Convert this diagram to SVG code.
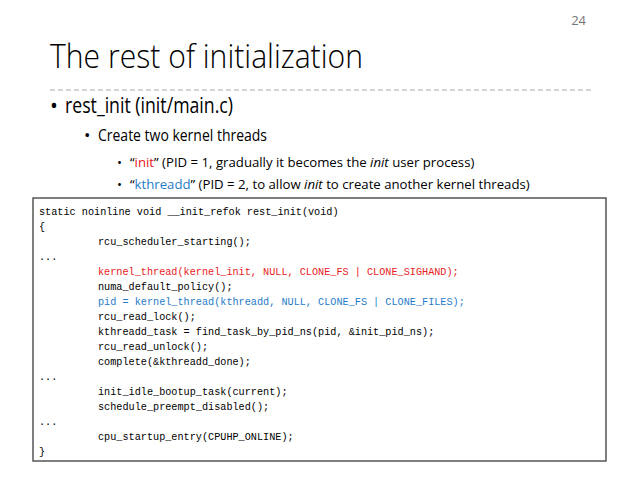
<svg xmlns="http://www.w3.org/2000/svg" width="638" height="478" viewBox="0 0 638 478">
<style>
.s{font-family:"Open Sans","Liberation Sans",sans-serif;fill:#000}
.c{font-family:"Liberation Mono","DejaVu Sans Mono",monospace;font-size:10.2px;fill:#000;white-space:pre}
.r{fill:#e8191b}.b{fill:#1f7bc8}
</style>
<rect width="638" height="478" fill="#fff"/>
<text class="s" x="586" y="25" font-size="13" style="fill:#777" text-anchor="end">24</text>
<text class="s" x="50" y="68" font-size="33" font-weight="300" textLength="313" lengthAdjust="spacingAndGlyphs">The rest of initialization</text>
<line x1="50" y1="90" x2="592" y2="90" stroke="#aaa" stroke-dasharray="5,3"/>
<g id="bullets">
<text class="s" x="50" y="113" font-size="21">•</text>
<text class="s" x="65" y="113" font-size="21" textLength="168" lengthAdjust="spacingAndGlyphs">rest_init (init/main.c)</text>
<text class="s" x="84" y="141" font-size="17">•</text>
<text class="s" x="98" y="141" font-size="17" textLength="169" lengthAdjust="spacingAndGlyphs">Create two kernel threads</text>
<text class="s" x="117" y="167" font-size="13.2">•</text>
<text class="s" x="130" y="167" font-size="13.2">“<tspan class="r">init</tspan>” (PID = 1, gradually it becomes the <tspan font-style="italic">init</tspan> user process)</text>
<text class="s" x="117" y="189" font-size="13.2">•</text>
<text class="s" x="130" y="189" font-size="13.2">“<tspan class="b">kthreadd</tspan>” (PID = 2, to allow <tspan font-style="italic">init</tspan> to create another kernel threads)</text>
</g>
<g id="code">
<rect x="33" y="198" width="573" height="263" fill="#fff" stroke="#555" stroke-width="1.5"/>
<text class="c" x="39" y="215">static noinline void __init_refok rest_init(void)</text>
<text class="c" x="39" y="230">{</text>
<text class="c" x="98" y="245">rcu_scheduler_starting();</text>
<text class="c" x="39" y="260">...</text>
<text class="c r" x="98" y="275">kernel_thread(kernel_init, NULL, CLONE_FS | CLONE_SIGHAND);</text>
<text class="c" x="98" y="290">numa_default_policy();</text>
<text class="c b" x="98" y="305">pid = kernel_thread(kthreadd, NULL, CLONE_FS | CLONE_FILES);</text>
<text class="c" x="98" y="320">rcu_read_lock();</text>
<text class="c" x="98" y="335">kthreadd_task = find_task_by_pid_ns(pid, &amp;init_pid_ns);</text>
<text class="c" x="98" y="350">rcu_read_unlock();</text>
<text class="c" x="98" y="365">complete(&amp;kthreadd_done);</text>
<text class="c" x="39" y="380">...</text>
<text class="c" x="98" y="395">init_idle_bootup_task(current);</text>
<text class="c" x="98" y="410">schedule_preempt_disabled();</text>
<text class="c" x="39" y="425">...</text>
<text class="c" x="98" y="440">cpu_startup_entry(CPUHP_ONLINE);</text>
<text class="c" x="39" y="455">}</text>
</g>
</svg>
